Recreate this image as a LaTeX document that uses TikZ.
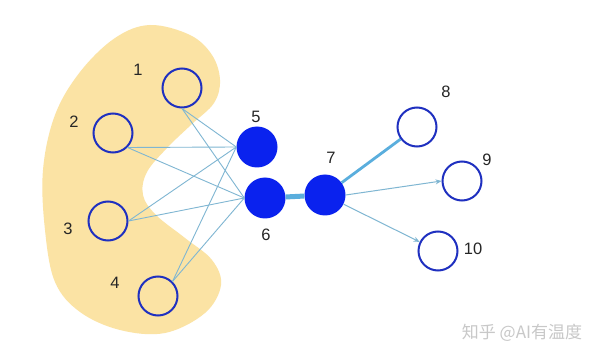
\documentclass[tikz,border=0pt]{standalone}
\usepackage{fontspec}
\setmainfont{Liberation Sans}
\newfontfamily\cjkfont{Noto Sans CJK SC}
\usetikzlibrary{arrows.meta}
\definecolor{blobyellow}{HTML}{FBE3A4}
\definecolor{ringblue}{HTML}{1F30C0}
\definecolor{dotblue}{HTML}{0A22EE}
\definecolor{linkblue}{HTML}{7FB6D2}
\definecolor{thickblue}{HTML}{5AAEDD}
\definecolor{wmgray}{HTML}{C8C8C8}
\tikzset{
  ring/.style={circle, draw=ringblue, line width=2pt, minimum size=39pt, inner sep=0pt},
  dot/.style={circle, fill=dotblue, minimum size=41pt, inner sep=0pt},
  lbl/.style={font=\fontsize{16.5}{16.5}\selectfont, text=black!85, inner sep=0pt},
  link/.style={draw=linkblue, line width=0.9pt},
  fat/.style={draw=thickblue, line width=5pt},
  mid/.style={draw=thickblue, line width=2.8pt},
  arr/.style={draw=linkblue, line width=1pt, -{Stealth[length=6pt,width=5pt]}}
}
\begin{document}
\begin{tikzpicture}[x=1pt,y=-1pt]
\useasboundingbox (0,0) rectangle (600,358);
\fill[white] (0,0) rectangle (600,358);
% yellow blob
\fill[blobyellow] plot[smooth cycle, tension=0.6] coordinates {
 (150,25) (190,35) (212,55) (220,80) (214,103) (192,124) (168,147)
 (147,172) (143,195) (156,215) (185,238) (212,260) (221,285) (205,313)
 (165,333) (120,330) (80,312) (55,282) (45,230) (43,170) (55,115) (80,72) (115,38)};
% nodes
\node[ring] (n1) at (182,88) {};
\node[ring] (n2) at (113,133) {};
\node[ring] (n3) at (108,221) {};
\node[ring] (n4) at (158,296) {};
\node[dot] (n5) at (257,147) {};
\node[dot] (n6) at (265,198) {};
\node[dot] (n7) at (325,195) {};
\node[ring] (n8) at (417,127) {};
\node[ring] (n9) at (462,181) {};
\node[ring] (n10) at (438,251) {};
% labels
\node[lbl] (l1) at (138,70) {1};
\node[lbl] (l2) at (74,122) {2};
\node[lbl] (l3) at (68,229) {3};
\node[lbl] (l4) at (115,283) {4};
\node[lbl] (l5) at (256,117) {5};
\node[lbl] (l6) at (266,235) {6};
\node[lbl] (l7) at (331,158) {7};
\node[lbl] (l8) at (446,92) {8};
\node[lbl] (l9) at (487,160) {9};
\node[lbl] (l10) at (473,249) {10};
% links
\draw[link] (n1.south) -- (n5.west);
\draw[link] (n1.south) -- (n6.west);
\draw[link] (n2.south east) -- (n5.west);
\draw[link] (n2.south east) -- (n6.west);
\draw[link] (n3.east) -- (n5.west);
\draw[link] (n3.east) -- (n6.west);
\draw[link] (n4.north east) -- (n5.west);
\draw[link] (n4.north east) -- (n6.west);
\draw[fat] (n6) -- (n7);
\draw[mid] (n7) -- (n8);
\draw[arr] (n7.east) -- (n9.west);
\draw[arr] (n7) -- (n10);
% watermark
\node[font=\cjkfont\fontsize{17}{17}\selectfont, text=wmgray, inner sep=0pt] (wm) at (522,333) {知乎 @AI有温度};
\end{tikzpicture}
\end{document}
